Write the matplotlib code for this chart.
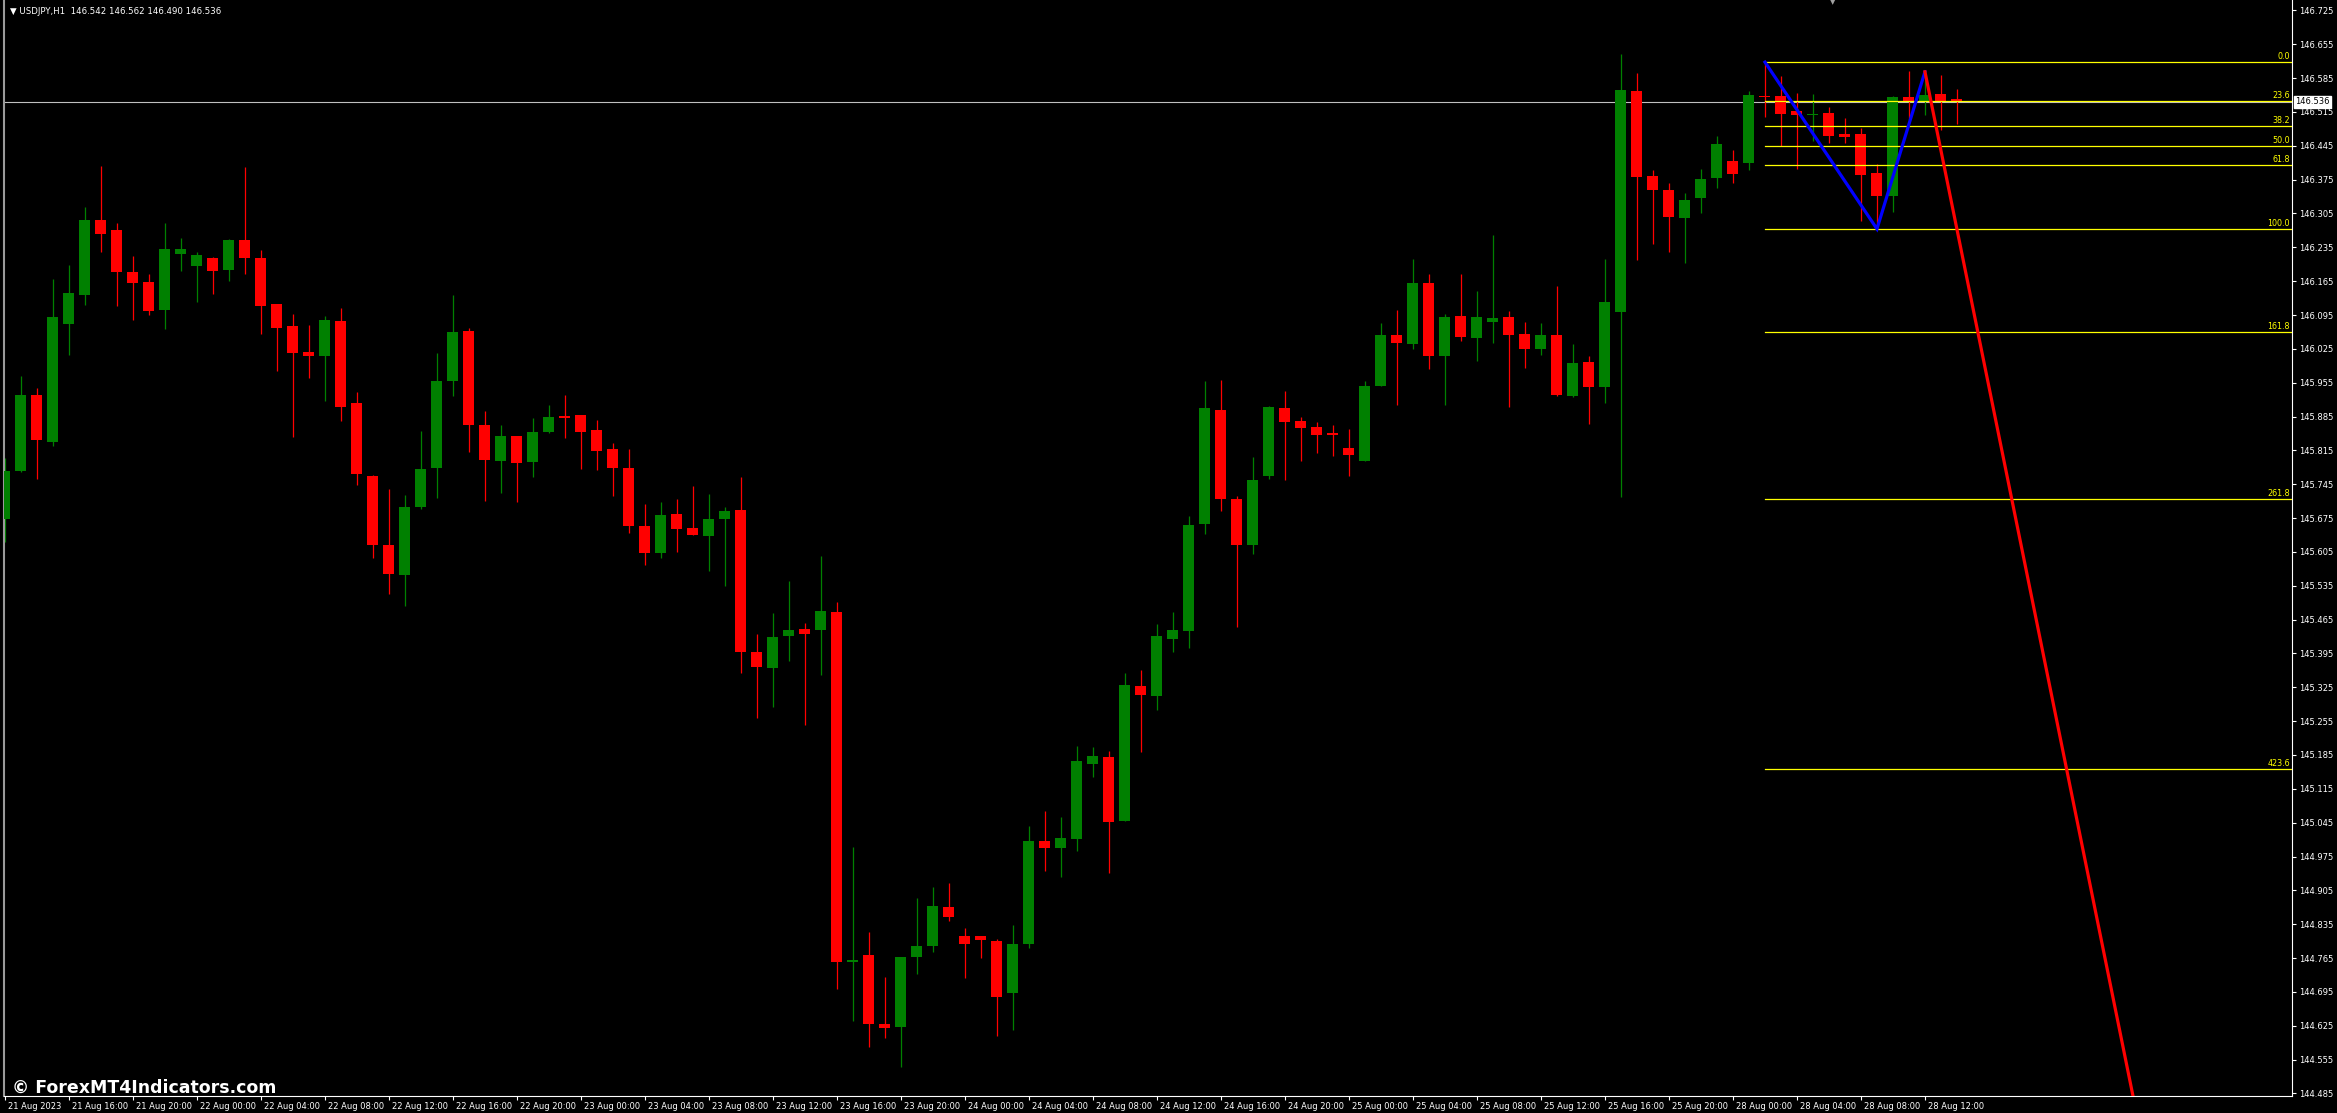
import numpy as np
import matplotlib
matplotlib.use("Agg")
import matplotlib.pyplot as plt
from matplotlib.transforms import ScaledTranslation

# USDJPY H1, bar index 0 = 21 Aug 16:00, first visible bar is index -4
first_bar = -4
opens = [145.673, 145.772, 145.930, 145.832, 146.076, 146.136, 146.292, 146.271, 146.184, 146.163,
         146.105, 146.221, 146.196, 146.213, 146.188, 146.250, 146.213, 146.118, 146.072, 146.019,
         146.010, 146.083, 145.913, 145.762, 145.619, 145.557, 145.698, 145.779, 145.959, 146.062,
         145.868, 145.793, 145.845, 145.791, 145.853, 145.886, 145.888, 145.858, 145.818, 145.779,
         145.658, 145.602, 145.684, 145.654, 145.637, 145.674, 145.691, 145.398, 145.364, 145.432,
         145.445, 145.443, 145.481, 144.756, 144.771, 144.629, 144.623, 144.767, 144.789, 144.871,
         144.811, 144.811, 144.801, 144.692, 144.795, 145.007, 144.993, 145.011, 145.167, 145.181,
         145.048, 145.328, 145.308, 145.424, 145.441, 145.662, 145.899, 145.715, 145.620, 145.762,
         145.903, 145.876, 145.863, 145.851, 145.820, 145.793, 145.948, 146.054, 146.035, 146.161,
         146.010, 146.093, 146.048, 146.081, 146.091, 146.056, 146.025, 146.054, 145.927, 145.998,
         145.946, 146.101, 146.558, 146.383, 146.354, 146.296, 146.337, 146.378, 146.414, 146.409,
         146.548, 146.548, 146.517, 146.509, 146.513, 146.469, 146.469, 146.389, 146.342, 146.546,
         146.536, 146.552, 146.542]
highs = [145.799, 145.969, 145.944, 146.170, 146.199, 146.318, 146.403, 146.285, 146.217, 146.180,
         146.285, 146.254, 146.226, 146.215, 146.252, 146.401, 146.230, 146.118, 146.097, 146.074,
         146.093, 146.110, 145.936, 145.764, 145.735, 145.723, 145.855, 146.016, 146.136, 146.068,
         145.897, 145.868, 145.845, 145.882, 145.909, 145.930, 145.888, 145.878, 145.830, 145.818,
         145.704, 145.709, 145.714, 145.742, 145.725, 145.698, 145.760, 145.435, 145.479, 145.545,
         145.458, 145.596, 145.502, 144.994, 144.819, 144.726, 144.767, 144.889, 144.912, 144.920,
         144.827, 144.811, 144.804, 144.834, 145.038, 145.069, 145.057, 145.203, 145.201, 145.193,
         145.354, 145.361, 145.456, 145.481, 145.679, 145.958, 145.961, 145.721, 145.801, 145.907,
         145.938, 145.884, 145.874, 145.868, 145.859, 145.959, 146.079, 146.105, 146.211, 146.180,
         146.097, 146.180, 146.145, 146.261, 146.103, 146.080, 146.079, 146.155, 146.035, 146.010,
         146.211, 146.635, 146.596, 146.395, 146.368, 146.347, 146.397, 146.465, 146.436, 146.558,
         146.618, 146.589, 146.554, 146.552, 146.525, 146.503, 146.482, 146.407, 146.548, 146.600,
         146.598, 146.591, 146.562]
lows = [145.626, 145.771, 145.756, 145.824, 146.012, 146.116, 146.225, 146.114, 146.085, 146.095,
        146.066, 146.186, 146.122, 146.139, 146.165, 146.180, 146.056, 145.979, 145.843, 145.965,
        145.917, 145.876, 145.743, 145.593, 145.518, 145.494, 145.694, 145.717, 145.928, 145.812,
        145.710, 145.727, 145.708, 145.760, 145.851, 145.841, 145.777, 145.775, 145.720, 145.645,
        145.577, 145.592, 145.604, 145.639, 145.566, 145.534, 145.355, 145.262, 145.285, 145.380,
        145.246, 145.351, 144.702, 144.634, 144.582, 144.600, 144.540, 144.731, 144.777, 144.842,
        144.723, 144.765, 144.604, 144.617, 144.785, 144.946, 144.932, 144.986, 145.139, 144.940,
        145.048, 145.192, 145.279, 145.397, 145.406, 145.643, 145.690, 145.450, 145.600, 145.756,
        145.754, 145.793, 145.810, 145.803, 145.762, 145.793, 145.948, 145.909, 146.025, 145.983,
        145.909, 146.041, 146.000, 146.037, 145.905, 145.985, 146.012, 145.928, 145.925, 145.870,
        145.913, 145.719, 146.209, 146.242, 146.225, 146.203, 146.306, 146.358, 146.368, 146.395,
        146.505, 146.445, 146.396, 146.455, 146.451, 146.451, 146.289, 146.273, 146.309, 146.498,
        146.509, 146.478, 146.490]
closes = [145.772, 145.930, 145.837, 146.091, 146.141, 146.292, 146.263, 146.184, 146.161, 146.103,
          146.232, 146.232, 146.219, 146.186, 146.250, 146.213, 146.114, 146.068, 146.016, 146.010,
          146.085, 145.905, 145.766, 145.619, 145.559, 145.698, 145.777, 145.959, 146.060, 145.868,
          145.795, 145.845, 145.789, 145.853, 145.884, 145.882, 145.853, 145.813, 145.778, 145.659,
          145.602, 145.681, 145.653, 145.641, 145.673, 145.690, 145.399, 145.366, 145.429, 145.444,
          145.436, 145.483, 144.756, 144.761, 144.628, 144.621, 144.767, 144.790, 144.873, 144.849,
          144.795, 144.802, 144.684, 144.794, 145.007, 144.993, 145.013, 145.173, 145.183, 145.046,
          145.330, 145.310, 145.431, 145.444, 145.661, 145.902, 145.715, 145.620, 145.754, 145.905,
          145.874, 145.861, 145.847, 145.847, 145.806, 145.948, 146.054, 146.037, 146.161, 146.010,
          146.091, 146.050, 146.091, 146.089, 146.054, 146.025, 146.054, 145.930, 145.996, 145.946,
          146.122, 146.560, 146.380, 146.354, 146.298, 146.333, 146.376, 146.449, 146.387, 146.550,
          146.546, 146.511, 146.509, 146.511, 146.466, 146.463, 146.385, 146.342, 146.545, 146.536,
          146.550, 146.538, 146.536]

time_tick_bars = [-4, 0, 4, 8, 12, 16, 20, 24, 28, 32, 36, 40, 44, 48, 52, 56, 60, 64, 68, 72,
                  76, 80, 84, 88, 92, 96, 100, 104, 108, 112, 116]
time_tick_labels = ["21 Aug 2023", "21 Aug 16:00", "21 Aug 20:00", "22 Aug 00:00", "22 Aug 04:00",
                    "22 Aug 08:00", "22 Aug 12:00", "22 Aug 16:00", "22 Aug 20:00", "23 Aug 00:00",
                    "23 Aug 04:00", "23 Aug 08:00", "23 Aug 12:00", "23 Aug 16:00", "23 Aug 20:00",
                    "24 Aug 00:00", "24 Aug 04:00", "24 Aug 08:00", "24 Aug 12:00", "24 Aug 16:00",
                    "24 Aug 20:00", "25 Aug 00:00", "25 Aug 04:00", "25 Aug 08:00", "25 Aug 12:00",
                    "25 Aug 16:00", "25 Aug 20:00", "28 Aug 00:00", "28 Aug 04:00", "28 Aug 08:00",
                    "28 Aug 12:00"]
price_ticks = [146.725, 146.655, 146.585, 146.515, 146.445, 146.375, 146.305, 146.235, 146.165,
               146.095, 146.025, 145.955, 145.885, 145.815, 145.745, 145.675, 145.605, 145.535,
               145.465, 145.395, 145.325, 145.255, 145.185, 145.115, 145.045, 144.975, 144.905,
               144.835, 144.765, 144.695, 144.625, 144.555, 144.485]

# zigzag swing points (bar, price) and the fibo drawn on the last leg
zigzag_bars = [106, 113, 116]
zigzag_prices = [146.618, 146.273, 146.598]
projection_bars = [116, 129]
projection_prices = [146.598, 144.480]
fib_high, fib_low = 146.618, 146.273
fib_levels = [0.0, 23.6, 38.2, 50.0, 61.8, 100.0, 161.8, 261.8, 423.6]
current_price = 146.536

W, H = 2337, 1113
fig = plt.figure(figsize=(W / 100, H / 100), dpi=100, facecolor="black")
ax = fig.add_axes([4 / W, 17 / H, 2288 / W, 1096 / H], facecolor="black")

opens, highs, lows, closes = map(np.array, (opens, highs, lows, closes))
bars = np.arange(first_bar, first_bar + len(opens))
up = closes >= opens
colors = np.where(up, "#008000", "#ff0000")
px = 1.0 / 483.5  # one screen pixel in price

ax.axhline(current_price, color="#c0c0c0", lw=0.8, zorder=1)
ax.vlines(bars, lows, highs, colors=colors, lw=0.9, zorder=2)
body_low = np.minimum(opens, closes)
body_h = np.maximum(np.abs(closes - opens), px)
ax.bar(bars, body_h, bottom=body_low, width=0.69, color=colors, linewidth=0, zorder=3)

# fibonacci levels
fib_start = zigzag_bars[0]
for lvl in fib_levels:
    price = fib_high - lvl / 100.0 * (fib_high - fib_low)
    ax.plot([fib_start, 140], [price, price], color="#ffff00", lw=0.9, zorder=4)
    ax.annotate("%.1f" % lvl, xy=(1.0, price), xycoords=("axes fraction", "data"),
                xytext=(-2, 1), textcoords="offset pixels", ha="right", va="bottom",
                color="#ffff00", fontsize=5.8, zorder=6)

ax.plot(zigzag_bars, zigzag_prices, color="#0000ff", lw=2.3, zorder=5, solid_joinstyle="miter")
ax.plot(projection_bars, projection_prices, color="#ff0000", lw=2.3, zorder=5)

ax.set_xlim(-4.06, 138.94)
ax.set_ylim(144.4797, 146.7465)

ax.spines["top"].set_visible(False)
ax.spines["left"].set_color("#9a9a9a")
ax.spines["left"].set_linewidth(1.5)
ax.spines["right"].set_color("white")
ax.spines["bottom"].set_color("white")
ax.spines["right"].set_linewidth(0.8)
ax.spines["bottom"].set_linewidth(0.8)

ax.yaxis.tick_right()
ax.set_yticks(price_ticks)
ax.set_yticklabels(["%.3f" % p for p in price_ticks])
ax.tick_params(axis="y", colors="white", labelcolor="white", length=3, width=0.8,
               labelsize=6, pad=2)
ax.set_xticks(time_tick_bars)
ax.set_xticklabels(time_tick_labels)
ax.tick_params(axis="x", colors="white", labelcolor="white", length=3, width=0.8,
               labelsize=6, pad=1)
offset = ScaledTranslation(3 / 100, 0, fig.dpi_scale_trans)
for lab in ax.get_xticklabels():
    lab.set_horizontalalignment("left")
    lab.set_transform(lab.get_transform() + offset)

# current price tag on the price scale
ax.annotate("%.3f" % current_price, xy=(1.0, current_price), xycoords=("axes fraction", "data"),
            xytext=(3, 0), textcoords="offset pixels", ha="left", va="center",
            color="black", fontsize=6, zorder=10, annotation_clip=False,
            bbox=dict(boxstyle="square,pad=0.15", fc="white", ec="white"))

fig.text(10 / W, 1 - 11 / H, "\u25bc USDJPY,H1  146.542 146.562 146.490 146.536",
         color="white", fontsize=6.2, va="center", ha="left")
fig.text(1833 / W, 1 - 2 / H, "\u25bc", color="#a0a0a0", fontsize=5, ha="center", va="center")
fig.text(12 / W, 1 - 1093 / H, "\u00a9 ForexMT4Indicators.com", color="white",
         fontsize=12.5, fontweight="bold", ha="left", va="baseline", zorder=20)

fig.savefig("out.png", dpi=100, facecolor="black")
